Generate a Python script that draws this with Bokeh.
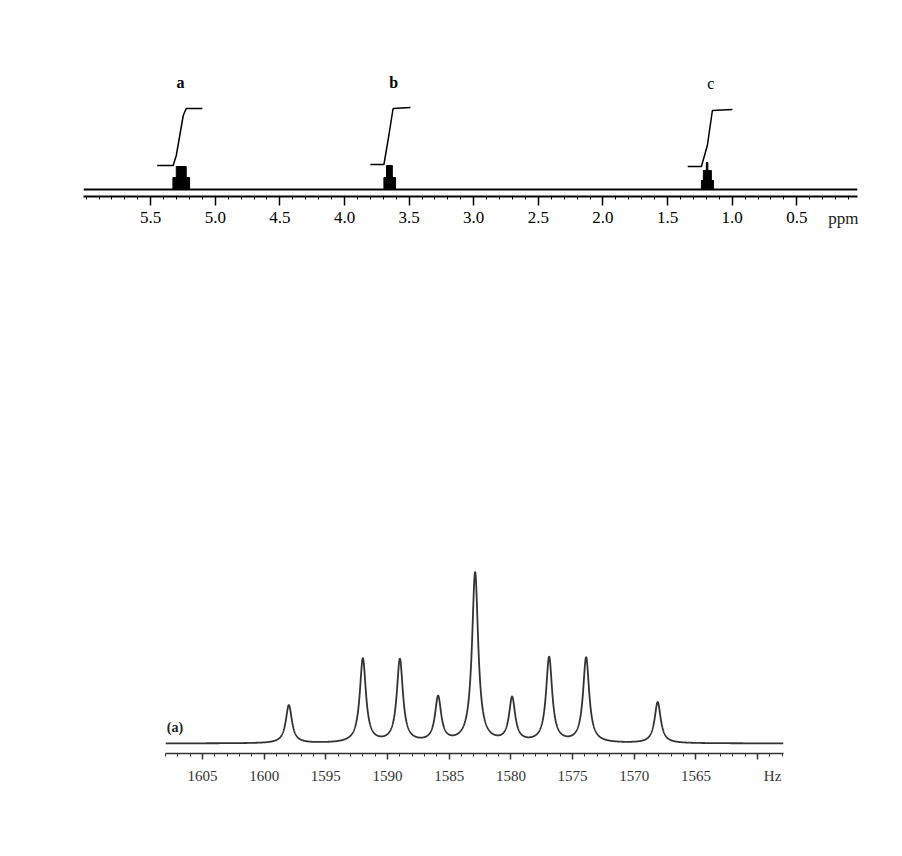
import numpy as np
from bokeh.plotting import figure
from bokeh.models import Range1d, FixedTicker, Label, LinearAxis
from bokeh.layouts import column
from bokeh.embed import file_html
from bokeh.resources import INLINE

# ---------------- top spectrum (ppm) ----------------
ppm_ticks = [5.5, 5.0, 4.5, 4.0, 3.5, 3.0, 2.5, 2.0, 1.5, 1.0, 0.5]
ppm_tick_labels = ["5.5", "5.0", "4.5", "4.0", "3.5", "3.0", "2.5", "2.0", "1.5", "1.0", "0.5"]
ppm_minor = [round(6.0 - 0.1 * i, 1) for i in range(60)]
ppm_unit_pos = 0.14
ppm_unit = "ppm"

group_names = ["a", "b", "c"]
group_label_ppm = [5.27, 3.62, 1.165]
group_label_y = [107, 107, 106]

# multiplet blocks: left ppm, right ppm, height
block_left = [5.328, 5.302, 3.695, 3.675, 1.238, 1.223, 1.200]
block_right = [5.199, 5.225, 3.605, 3.630, 1.145, 1.161, 1.188]
block_height = [12, 23, 12, 24, 9, 19, 27]

# integral traces
int_a_ppm = [5.45, 5.326, 5.302, 5.279, 5.248, 5.225, 5.10]
int_a_val = [24, 24, 34, 51, 74, 81, 81]
int_b_ppm = [3.80, 3.695, 3.657, 3.624, 3.49]
int_b_val = [25, 25, 54, 81, 82]
int_c_ppm = [1.344, 1.238, 1.192, 1.153, 0.998]
int_c_val = [23, 23, 44, 79, 80]

# ---------------- bottom spectrum (Hz) ----------------
hz_ticks = [1605, 1600, 1595, 1590, 1585, 1580, 1575, 1570, 1565, 1560]
hz_tick_labels = ["1605", "1600", "1595", "1590", "1585", "1580", "1575", "1570", "1565",
                  "\u2003\u2003Hz"]
hz_minor = list(range(1608, 1557, -1))

peak_hz = [1598.0, 1592.0, 1589.0, 1585.9, 1582.9, 1579.9, 1576.9, 1573.9, 1568.1]
peak_height = [38, 84, 83, 45, 170, 44, 85, 85, 41]
half_width_hz = 0.3

SERIF = "Liberation Serif"


def style_axis(ax, ticks, labels, minor, color, lw, tick_out, minor_out, size, standoff):
    ax.ticker = FixedTicker(ticks=ticks, minor_ticks=minor)
    ax.major_label_overrides = {t: l for t, l in zip(ticks, labels)}
    ax.axis_line_width = lw
    ax.axis_line_color = color
    ax.major_tick_line_color = color
    ax.minor_tick_line_color = color
    ax.major_tick_line_width = 1.5
    ax.major_tick_out = tick_out
    ax.major_tick_in = 0
    ax.minor_tick_out = minor_out
    ax.minor_tick_in = 0
    ax.major_label_standoff = standoff
    ax.major_label_text_font = SERIF
    ax.major_label_text_font_size = size
    ax.major_label_text_color = color


# ---------- figure 1 ----------
p1 = figure(width=880, height=250, output_backend="svg", toolbar_location=None,
            x_range=Range1d(6.02, 0.03), y_range=Range1d(-7, 124),
            y_axis_location=None, min_border_left=83, min_border_right=23,
            min_border_top=65, min_border_bottom=54)
p1.frame_align = False
p1.outline_line_color = None
p1.grid.visible = False
style_axis(p1.xaxis[0], ppm_ticks, ppm_tick_labels, ppm_minor, "black", 2, 9, 3, "17px", 6)

unit_ax = LinearAxis(ticker=FixedTicker(ticks=[ppm_unit_pos], minor_ticks=[]))
unit_ax.major_label_overrides = {ppm_unit_pos: ppm_unit}
unit_ax.axis_line_color = None
unit_ax.major_tick_line_color = None
unit_ax.minor_tick_line_color = None
unit_ax.major_tick_out = 0
unit_ax.major_tick_in = 0
unit_ax.major_label_standoff = -17
unit_ax.major_label_text_font = SERIF
unit_ax.major_label_text_font_size = "17px"
unit_ax.major_label_text_color = "#222222"
p1.add_layout(unit_ax, "below")

# baseline
p1.line([6.02, 0.03], [0, 0], line_color="black", line_width=2)
# multiplet blocks
p1.quad(left=block_left, right=block_right, bottom=[0] * len(block_height),
        top=block_height, fill_color="black", line_color="black", line_width=1)
# integrals
for xs, ys in [(int_a_ppm, int_a_val), (int_b_ppm, int_b_val), (int_c_ppm, int_c_val)]:
    p1.line(xs, ys, line_color="black", line_width=1.5)

for name, x, y in zip(group_names, group_label_ppm, group_label_y):
    p1.add_layout(Label(x=x, y=y, text=name, text_font=SERIF, text_font_size="16px",
                        text_font_style="bold" if name != "c" else "normal",
                        text_align="center", text_baseline="middle", text_color="black"))

# ---------- figure 2 ----------
p2 = figure(width=880, height=553, output_backend="svg", toolbar_location=None,
            x_range=Range1d(1608.0, 1557.9), y_range=Range1d(-10, 178),
            y_axis_location=None, min_border_left=165, min_border_right=97,
            min_border_top=315, min_border_bottom=50)
p2.frame_align = False
p2.outline_line_color = None
p2.grid.visible = False
style_axis(p2.xaxis[0], hz_ticks, hz_tick_labels, hz_minor, "#333333", 1.5, 6, 3, "15px", 8)

hz_grid = np.linspace(1608.0, 1557.9, 5000)
spec = np.zeros_like(hz_grid)
for c, h in zip(peak_hz, peak_height):
    spec += h / (1.0 + ((hz_grid - c) / half_width_hz) ** 2)
p2.line(hz_grid, spec, line_color="#333333", line_width=1.8)

p2.add_layout(Label(x=1607.9, y=16, text="(a)", text_font=SERIF, text_font_size="14px",
                    text_font_style="bold", text_align="left", text_baseline="middle",
                    text_color="#222"))

layout = column(p1, p2)
open("out.html", "w").write(file_html(layout, INLINE))
